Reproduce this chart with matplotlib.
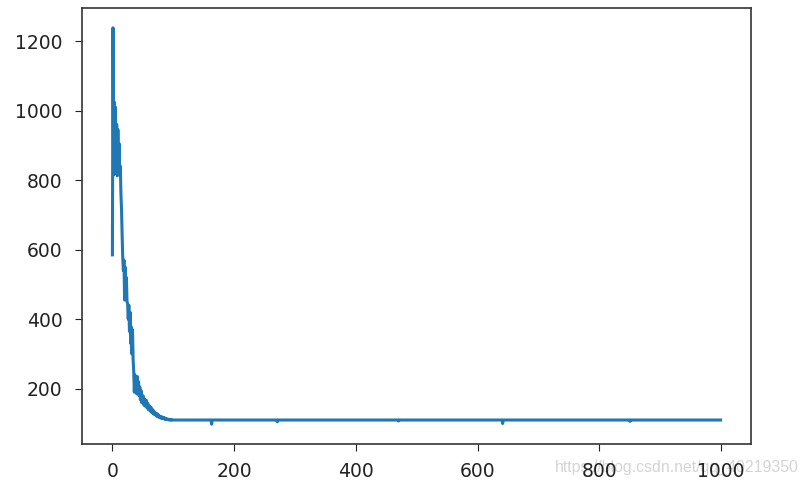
import matplotlib
matplotlib.use('Agg')
import matplotlib.pyplot as plt

###############################################################################
# Data
###############################################################################
# noisy start, one value per step
earlyY = [
    585, 1238, 815, 1025, 840, 1010, 820, 960, 812, 945,
    830, 905, 815, 840, 760, 714, 640, 575, 540, 570,
    455, 550, 470, 520, 450, 445, 400, 440, 365, 420,
    330, 378, 300, 370, 285, 250, 190, 240, 200, 230,
    185, 235, 195, 220, 180, 205, 168, 195, 160, 182,
    158, 178, 152, 170, 160, 148, 166, 145, 158, 140,
    152, 138, 148, 134, 145, 131, 140, 128, 136, 126,
    132, 124, 129, 121, 127, 119, 124, 118, 121, 116,
    120, 115, 118, 114, 117, 113, 116, 112, 114, 111,
    113, 111, 112, 110, 112, 110, 111, 110, 111, 110,
]
earlyX = list(range(len(earlyY)))
# flat tail, only where something changes
tailX = [100, 130, 162, 163, 164, 200, 270, 271, 272, 400, 469, 470, 471,
         600, 640, 641, 642, 800, 849, 850, 851, 999]
tailY = [110, 110, 110, 98, 110, 110, 110, 105, 110, 110, 110, 107, 110,
         110, 110, 100, 110, 110, 110, 106, 110, 110]
xs = earlyX + tailX
ys = earlyY + tailY
###############################################################################
# Plot
###############################################################################
(W, H) = (808, 488)
fig = plt.figure(figsize=(W/100, H/100), dpi=100)
ax = fig.add_axes([82/W, 1-444/H, (751-82)/W, (444-8)/H])
ax.plot(xs, ys, color='#1f77b4', lw=2.2)
ax.set_xticks([0, 200, 400, 600, 800, 1000])
ax.set_yticks([200, 400, 600, 800, 1000, 1200])
ax.tick_params(axis='both', labelsize=13.5, colors='#222222', length=5)
ax.tick_params(axis='x', pad=8)
ax.tick_params(axis='y', pad=9)
for sp in ax.spines.values():
    sp.set_color('#333333')
    sp.set_linewidth(1.2)
# watermark, under the tick labels
fig.text(
    555/W, 1-467/H, 'https://blog.csdn.net/qq_40219350',
    color='#d4d4d4', fontsize=11.4, family='Liberation Sans',
    va='center', ha='left', zorder=-1
)
plt.savefig('out.png', dpi=100, facecolor='#ffffff')
plt.close('all')
